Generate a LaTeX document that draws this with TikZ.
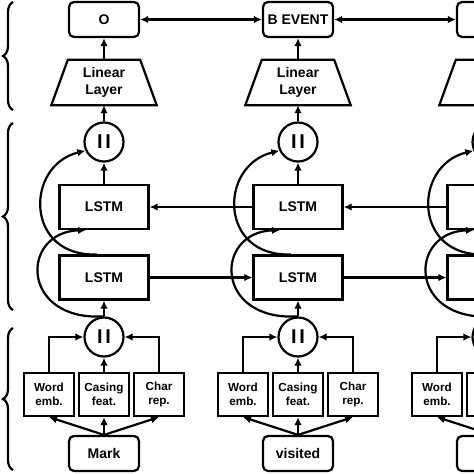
\documentclass[tikz,border=0pt]{standalone}
\usepackage{fontspec}
\setmainfont{Liberation Sans}
\usetikzlibrary{arrows.meta,decorations.pathreplacing,calc}
\begin{document}
\begin{tikzpicture}[x=1pt,y=-1pt,
  lw/.style={line width=2.2pt},
  tip/.tip={Latex[length=8pt,width=7.5pt]},
  arr/.style={lw,-tip},
  darr/.style={lw,tip-tip},
  bigfont/.style={font=\fontsize{14}{16.8}\selectfont\bfseries},
  outbox/.style={draw,lw,rounded corners=5pt,minimum width=70pt,minimum height=35pt,inner sep=0pt,bigfont},
  lstmbox/.style={draw,lw,minimum width=89pt,minimum height=44pt,inner sep=0pt,bigfont},
  featbox/.style={draw,lw,minimum width=50pt,minimum height=43pt,inner sep=0pt,align=center,font=\fontsize{11.7}{14}\selectfont\bfseries},
  concat/.style={draw,lw,circle,minimum size=39pt,inner sep=0pt,font=\fontsize{20}{20}\selectfont\bfseries},
  linbox/.style={minimum width=105pt,minimum height=45pt,inner sep=0pt,align=center,bigfont},
  brc/.style={lw,decorate,decoration={brace,amplitude=10pt}},
]
\useasboundingbox (0,0) rectangle (474,474);
\clip (0,0) rectangle (474,474);

\foreach \i/\cx/\ot/\wt in {1/104/O/Mark,2/298/B EVENT/visited,3/492//}{
  \node[outbox] (out\i) at (\cx,19.5) {\ot};
  \node[linbox] (lin\i) at (\cx,82.5) {\ifnum\i<3 Linear\\Layer\fi};
  \draw[lw,line join=miter] (lin\i.south west) -- ($(lin\i.north west)+(16.5,0)$)
     -- ($(lin\i.north east)+(-16.5,0)$) -- (lin\i.south east) -- cycle;
  \node[concat] (cu\i) at (\cx,142) {\ifnum\i<3 I\kern2.5ptI\fi};
  \node[lstmbox] (lu\i) at (\cx,207) {\ifnum\i<3 LSTM\fi};
  \node[lstmbox] (ll\i) at (\cx,277.5) {\ifnum\i<3 LSTM\fi};
  \node[concat] (cl\i) at (\cx,337) {\ifnum\i<3 I\kern2.5ptI\fi};
  \node[featbox] (we\i) at (\cx-55,394.5) {Word\\emb.};
  \node[featbox] (cf\i) at (\cx,394.5) {\ifnum\i<3 Casing\\feat.\fi};
  \node[featbox] (cr\i) at (\cx+55,394.5) {\ifnum\i<3 Char\\rep.\fi};
  \node[outbox] (wd\i) at (\cx,453.5) {\wt};
  % vertical flow
  \draw[arr] (wd\i.north) -- (we\i.south);
  \draw[arr] (wd\i.north) -- (cf\i.south);
  \draw[arr] (wd\i.north) -- (cr\i.south);
  \draw[arr] (we\i.north) |- (cl\i.west);
  \draw[arr] (cf\i.north) -- (cl\i.south);
  \draw[arr] (cr\i.north) |- (cl\i.east);
  \draw[arr] (cl\i.north) -- (ll\i.south);
  \draw[arr] (lu\i.north) -- (cu\i.south);
  \draw[arr] (cu\i.north) -- (lin\i.south);
  \draw[arr] (lin\i.north) -- (out\i.south);
  % skip curves
  \draw[arr] ($(ll\i.north)+(-7,0)$) .. controls +(-72,3) and +(-61,15) .. (cu\i.205);
  \draw[arr] (cl\i.north) .. controls +(-84,5) and +(-66,2) .. ($(lu\i.south)+(-18,0)$);
}
% horizontal connections
\draw[darr] (out1.east) -- (out2.west);
\draw[darr] (out2.east) -- (out3.west);
\draw[arr] (lu2.west) -- (lu1.east);
\draw[arr] (lu3.west) -- (lu2.east);
\draw[arr] (ll1.east) -- (ll2.west);
\draw[arr] (ll2.east) -- (ll3.west);
% braces
\draw[brc] (13,110) -- (13,2);
\draw[brc] (13,310) -- (13,123);
\draw[brc] (13,470) -- (13,328);
\end{tikzpicture}
\end{document}
